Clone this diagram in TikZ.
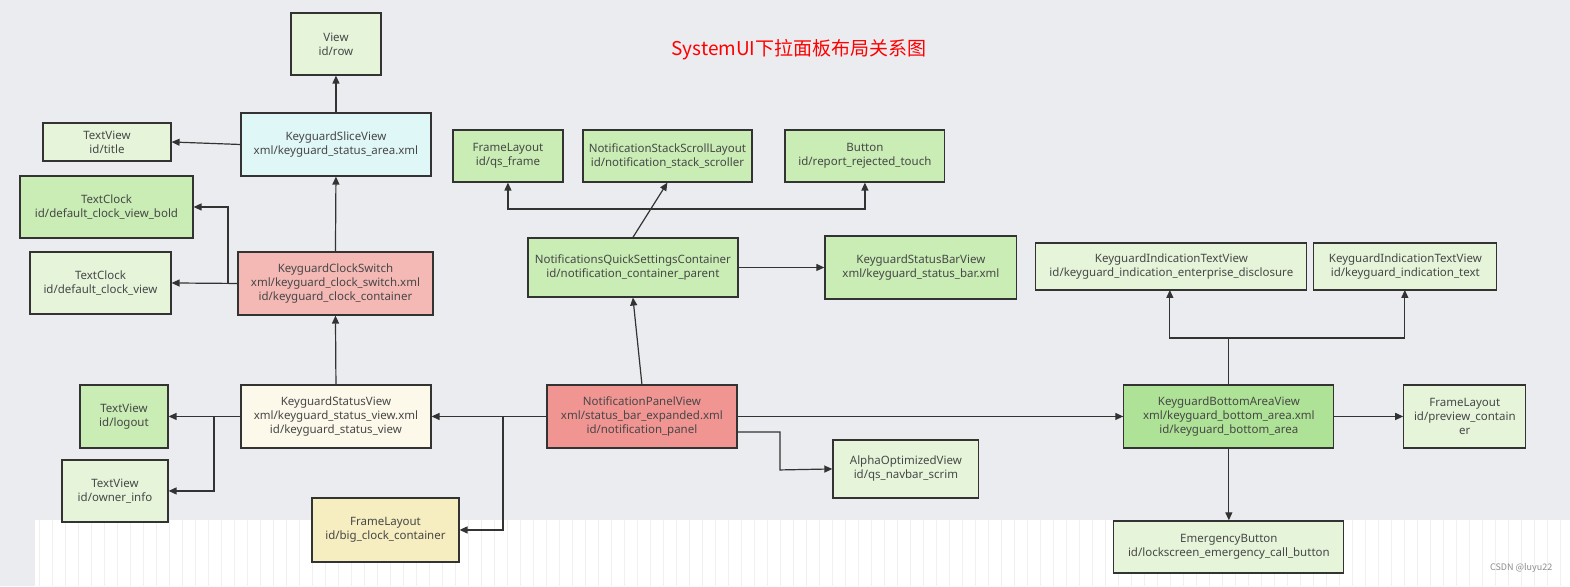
\documentclass[tikz,border=0pt]{standalone}
\usepackage{fontspec}
\setmainfont{Noto Sans}
\newfontfamily\cjk{Noto Sans CJK SC}
\usetikzlibrary{arrows.meta}
\definecolor{bg}{HTML}{EBECEF}
\definecolor{lg}{HTML}{E6F5DA}
\definecolor{mg}{HTML}{C9EDB4}
\definecolor{dg}{HTML}{AEE296}
\definecolor{cy}{HTML}{E0F7F7}
\definecolor{pk}{HTML}{F4B9B5}
\definecolor{rd}{HTML}{F19593}
\definecolor{cr}{HTML}{FCF9EA}
\definecolor{yl}{HTML}{F6EDC0}
\definecolor{ln}{HTML}{333333}
\begin{document}
\begin{tikzpicture}[x=1pt,y=-1pt,
  bx/.style={draw=ln,line width=1.2pt,align=center,font=\fontsize{11.5}{14}\selectfont,text=ln!90,inner sep=0pt},
  ar/.style={draw=ln,line width=1.2pt,-{Triangle[length=8pt,width=7pt]}},
  li/.style={draw=ln,line width=1.2pt}]
\fill[bg] (0,0) rectangle (1570,586);
\fill[white] (35,520) rectangle (1570,586);
\draw[black!6,step=13] (35,520) grid (1570,586);
\useasboundingbox (0,0) rectangle (1570,586);
\newcommand\bxn[7]{\node[bx,fill=#6,minimum width={#4-#2},minimum height={#5-#3}] (#1) at ({(#2+#4)/2},{(#3+#5)/2}) {#7};}
\bxn{row}{291}{13}{381}{75}{lg}{View\\id/row}
\bxn{slice}{241}{113}{431}{176}{cy}{KeyguardSliceView\\xml/keyguard\_status\_area.xml}
\bxn{title}{43}{123}{171}{161}{lg}{TextView\\id/title}
\bxn{bold}{20}{176}{193}{238}{mg}{TextClock\\id/default\_clock\_view\_bold}
\bxn{dclock}{30}{252}{171}{314}{lg}{TextClock\\id/default\_clock\_view}
\bxn{switch}{238}{252}{433}{315}{pk}{KeyguardClockSwitch\\xml/keyguard\_clock\_switch.xml\\id/keyguard\_clock\_container}
\bxn{ksv}{241}{385}{431}{448}{cr}{KeyguardStatusView\\xml/keyguard\_status\_view.xml\\id/keyguard\_status\_view}
\bxn{logout}{80}{385}{168}{448}{mg}{TextView\\id/logout}
\bxn{owner}{62}{460}{168}{522}{lg}{TextView\\id/owner\_info}
\bxn{big}{312}{498}{459}{562}{yl}{FrameLayout\\id/big\_clock\_container}
\bxn{npv}{547}{385}{737}{448}{rd}{NotificationPanelView\\xml/status\_bar\_expanded.xml\\id/notification\_panel}
\bxn{alpha}{833}{440}{979}{498}{lg}{AlphaOptimizedView\\id/qs\_navbar\_scrim}
\bxn{nqsc}{528}{238}{738}{297}{mg}{NotificationsQuickSettingsContainer\\id/notification\_container\_parent}
\bxn{ksbv}{825}{236}{1017}{299}{mg}{KeyguardStatusBarView\\xml/keyguard\_status\_bar.xml}
\bxn{qs}{453}{130}{563}{182}{mg}{FrameLayout\\id/qs\_frame}
\bxn{nssl}{583}{130}{752}{182}{mg}{NotificationStackScrollLayout\\id/notification\_stack\_scroller}
\bxn{btn}{785}{130}{945}{182}{mg}{Button\\id/report\_rejected\_touch}
\bxn{kite}{1036}{243}{1307}{290}{lg}{KeyguardIndicationTextView\\id/keyguard\_indication\_enterprise\_disclosure}
\bxn{kit}{1314}{243}{1497}{290}{lg}{KeyguardIndicationTextView\\id/keyguard\_indication\_text}
\bxn{kbav}{1124}{385}{1334}{448}{dg}{KeyguardBottomAreaView\\xml/keyguard\_bottom\_area.xml\\id/keyguard\_bottom\_area}
\bxn{prev}{1404}{385}{1526}{448}{lg}{FrameLayout\\id/preview\_contain\\er}
\bxn{emg}{1114}{521}{1344}{573}{lg}{EmergencyButton\\id/lockscreen\_emergency\_call\_button}
\node[text=red,font=\cjk\fontsize{19}{22}\selectfont] (ttl) at (799,50) {SystemUI下拉面板布局关系图};
\node[text=black!45,font=\cjk\fontsize{9}{11}\selectfont,anchor=east] (wm) at (1556,568) {CSDN @luyu22};
% edges
\draw[ar] (slice.north) -- (row.south);
\draw[ar] (slice.west) -- (title.east);
\draw[ar] (switch.north) -- (slice.south);
\draw[ar] (switch.west) -- (dclock.east);
\coordinate (j1) at (228,284);
\draw[ar] (j1) |- (bold.east);
\draw[ar] (ksv.north) -- (switch.south);
\draw[ar] (ksv.west) -- (logout.east);
\coordinate (j2) at (214,417);
\draw[ar] (j2) |- (owner.east);
\draw[ar] (npv.west) -- (ksv.east);
\coordinate (j3) at (503,417);
\draw[ar] (j3) |- (big.east);
\draw[ar] (npv.north) -- (nqsc.south);
\coordinate (j4) at (737,432);
\draw[ar] (j4) -| (780,470) -- (alpha.west);
\draw[ar] (npv.east) -- (kbav.west);
\draw[ar] (nqsc.north) -- (nssl.south);
\coordinate (j5) at (642,209);
\draw[ar] (j5) -| (qs.south);
\draw[ar] (j5) -| (btn.south);
\draw[ar] (nqsc.east) -- (ksbv.west);
\coordinate (j6) at (1229,338);
\draw[li] (kbav.north) -- (j6);
\draw[ar] (j6) -| (1170,290);
\draw[ar] (j6) -| (1405,290);
\draw[ar] (kbav.east) -- (prev.west);
\draw[ar] (kbav.south) -- (emg.north);
\end{tikzpicture}
\end{document}
